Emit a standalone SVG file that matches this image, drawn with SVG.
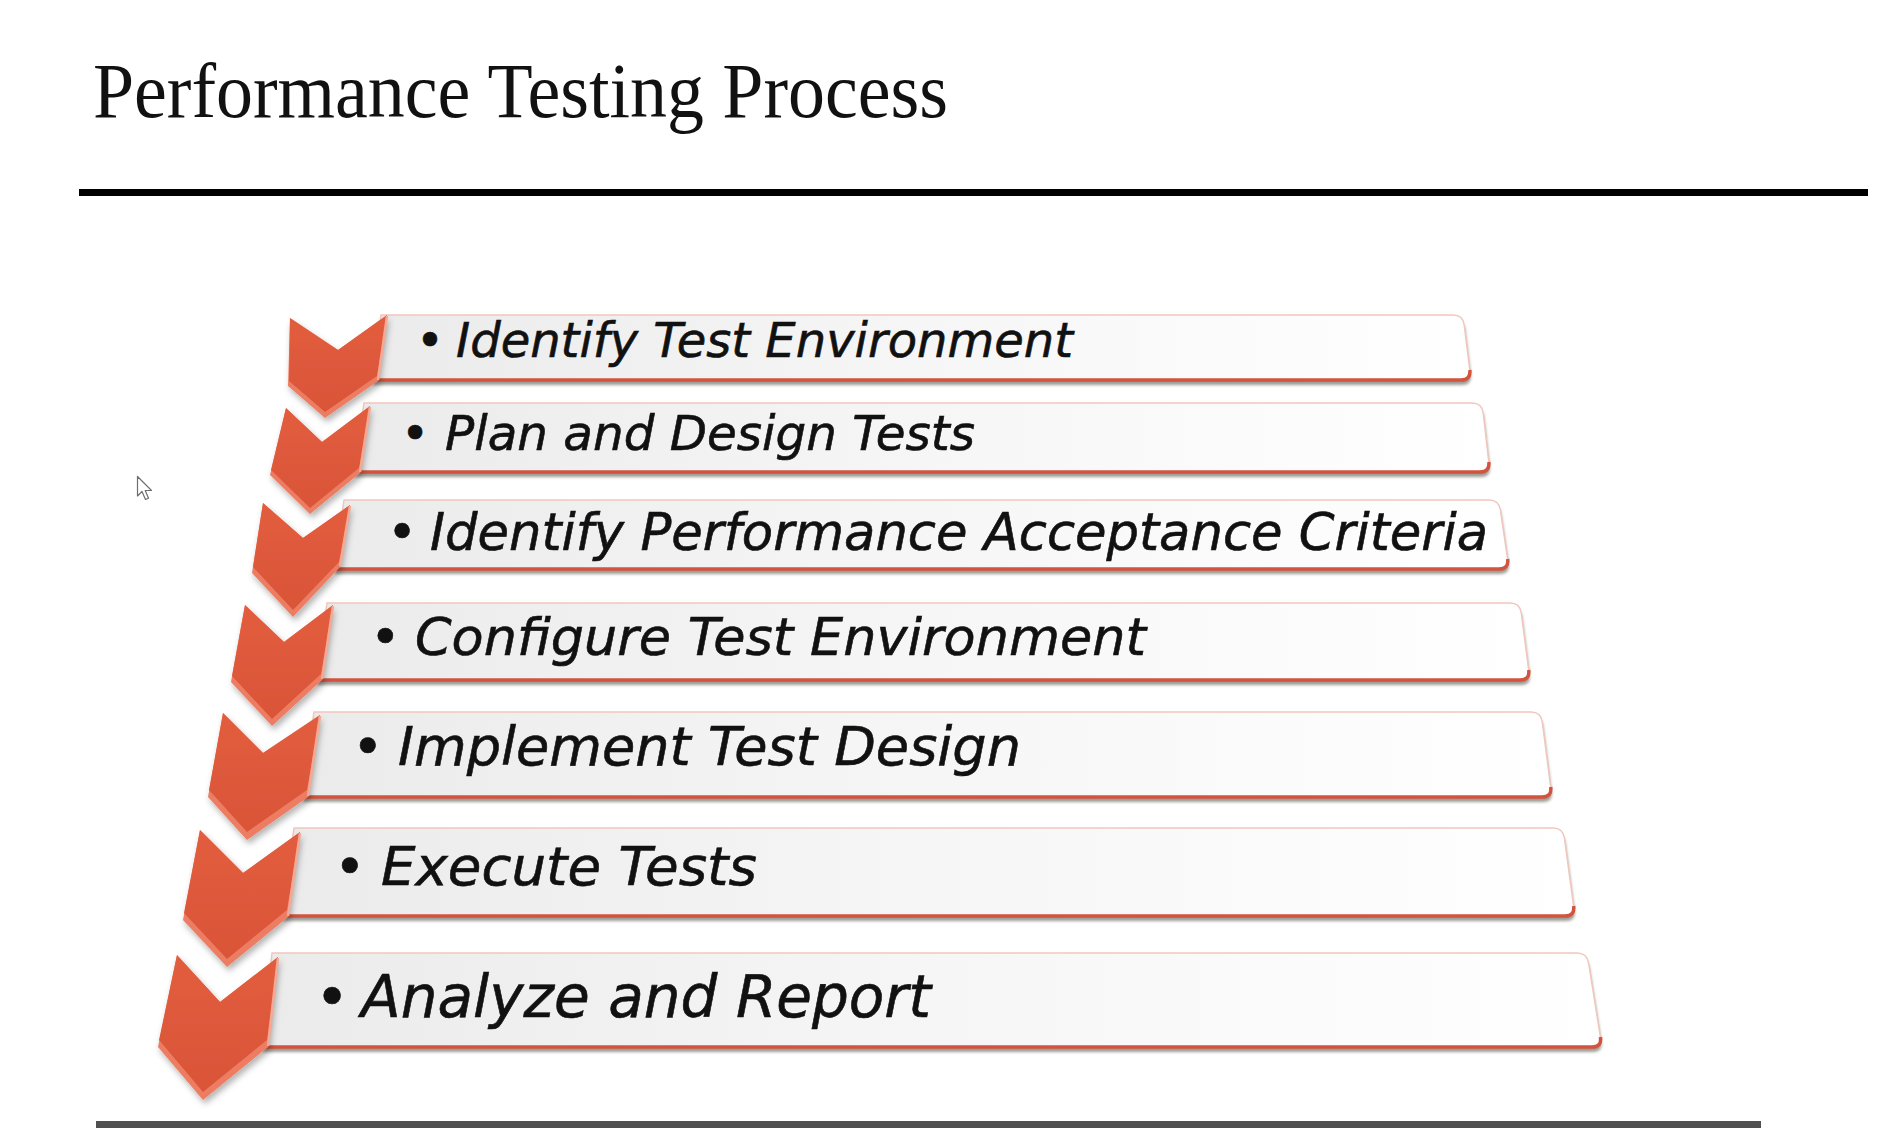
<svg xmlns="http://www.w3.org/2000/svg" width="1898" height="1128" viewBox="0 0 1898 1128">
<defs>
<linearGradient id="barGrad" x1="0" y1="0" x2="1" y2="0">
<stop offset="0" stop-color="#EBEBEB"/>
<stop offset="0.5" stop-color="#F6F6F6"/>
<stop offset="1" stop-color="#FFFFFF"/>
</linearGradient>
<linearGradient id="chevGrad" x1="0" y1="0" x2="0" y2="1">
<stop offset="0" stop-color="#E25D3F"/>
<stop offset="1" stop-color="#DA5538"/>
</linearGradient>
<filter id="blur" x="-5%" y="-30%" width="110%" height="160%">
<feGaussianBlur stdDeviation="1.8"/>
</filter>
<filter id="chevShadow" x="-30%" y="-30%" width="160%" height="160%">
<feDropShadow dx="2" dy="4" stdDeviation="3" flood-color="#000" flood-opacity="0.3"/>
</filter>
<style>
.shadow{fill:#9C9C96;filter:url(#blur);}
.bar{fill:url(#barGrad);stroke:#F1C6BD;stroke-width:1.5;}
.redline{fill:none;stroke:#D2533E;stroke-width:3.5;}
.bevel{fill:#EC7D62;}
.chev{fill:url(#chevGrad);}
.chevedge{fill:none;stroke:#F5A994;stroke-width:2.5;}
.txt{font-family:"DejaVu Sans","Verdana",sans-serif;font-style:italic;fill:#111111;stroke:#111111;stroke-width:0.6;}
.bul{font-style:normal;}
.title{font-family:"Liberation Serif","Times New Roman",serif;fill:#111111;}
</style>
</defs>
<rect width="1898" height="1128" fill="#FFFFFF"/>

<text class="title" x="93" y="117" font-size="78" textLength="855" lengthAdjust="spacingAndGlyphs">Performance Testing Process</text>
<rect x="79" y="189" width="1789" height="7" fill="#000000"/>

<g id="step1">
<path class="shadow" transform="translate(1,5)" d="M381,315 L1453,315 Q1463,315 1464.2,325 L1469.8,370 Q1471,380 1461,380 L372,380 Z"/>
<path class="bar" d="M381,315 L1453,315 Q1463,315 1464.2,325 L1469.8,370 Q1471,380 1461,380 L372,380 Z"/>
<path class="redline" d="M372,380 L1461,380 Q1471,380 1469.8,370"/>
<g filter="url(#chevShadow)">
<polygon class="bevel" points="290,318 338,350 387,315 378,381 325,418 288,386"/>
<polygon class="chev" points="290,318 338,350 387,315 377,376 325,412 289,381"/>
</g>
<line class="chevedge" x1="387" y1="316" x2="378" y2="380"/>
<text class="txt" y="357" font-size="47.5"><tspan class="bul" x="416">•</tspan><tspan x="456" textLength="617" lengthAdjust="spacingAndGlyphs">Identify Test Environment</tspan></text>
</g>

<g id="step2">
<path class="shadow" transform="translate(1,5)" d="M364,403 L1472,403 Q1482,403 1483.2,413 L1488.8,462 Q1490,472 1480,472 L354,472 Z"/>
<path class="bar" d="M364,403 L1472,403 Q1482,403 1483.2,413 L1488.8,462 Q1490,472 1480,472 L354,472 Z"/>
<path class="redline" d="M354,472 L1480,472 Q1490,472 1488.8,462"/>
<g filter="url(#chevShadow)">
<polygon class="bevel" points="286,408 322,442 370,406 360,473 310,514 270,475"/>
<polygon class="chev" points="286,408 322,442 370,406 359,468 310,508 271,470"/>
</g>
<line class="chevedge" x1="370" y1="407" x2="360" y2="472"/>
<text class="txt" y="450" font-size="47.8"><tspan class="bul" x="401">•</tspan><tspan x="445" textLength="530" lengthAdjust="spacingAndGlyphs">Plan and Design Tests</tspan></text>
</g>

<g id="step3">
<path class="shadow" transform="translate(1,5)" d="M344,500 L1489,500 Q1499,500 1500.4,510 L1507.6,559 Q1509,569 1499,569 L334,569 Z"/>
<path class="bar" d="M344,500 L1489,500 Q1499,500 1500.4,510 L1507.6,559 Q1509,569 1499,569 L334,569 Z"/>
<path class="redline" d="M334,569 L1499,569 Q1509,569 1507.6,559"/>
<g filter="url(#chevShadow)">
<polygon class="bevel" points="263,503 303,538 350,505 340,567 293,617 252,573"/>
<polygon class="chev" points="263,503 303,538 350,505 339,562 293,610 253,567"/>
</g>
<line class="chevedge" x1="350" y1="506" x2="340" y2="566"/>
<text class="txt" y="550" font-size="51.2"><tspan class="bul" x="387">•</tspan><tspan x="430" textLength="1058" lengthAdjust="spacingAndGlyphs">Identify Performance Acceptance Criteria</tspan></text>
</g>

<g id="step4">
<path class="shadow" transform="translate(1,5)" d="M327,603 L1510,603 Q1520,603 1521.3,613 L1528.7,670 Q1530,680 1520,680 L316,680 Z"/>
<path class="bar" d="M327,603 L1510,603 Q1520,603 1521.3,613 L1528.7,670 Q1530,680 1520,680 L316,680 Z"/>
<path class="redline" d="M316,680 L1520,680 Q1530,680 1528.7,670"/>
<g filter="url(#chevShadow)">
<polygon class="bevel" points="245,605 284,642 333,605 322,680 272,726 231,682"/>
<polygon class="chev" points="245,605 284,642 333,605 321,674 272,719 232,676"/>
</g>
<line class="chevedge" x1="333" y1="606" x2="322" y2="679"/>
<text class="txt" y="655" font-size="52"><tspan class="bul" x="370">•</tspan><tspan x="415" textLength="731" lengthAdjust="spacingAndGlyphs">Configure Test Environment</tspan></text>
</g>

<g id="step5">
<path class="shadow" transform="translate(1,5)" d="M314,712 L1531,712 Q1541,712 1542.3,722 L1550.7,787 Q1552,797 1542,797 L302,797 Z"/>
<path class="bar" d="M314,712 L1531,712 Q1541,712 1542.3,722 L1550.7,787 Q1552,797 1542,797 L302,797 Z"/>
<path class="redline" d="M302,797 L1542,797 Q1552,797 1550.7,787"/>
<g filter="url(#chevShadow)">
<polygon class="bevel" points="223,713 263,753 320,715 308,797 247,840 208,797"/>
<polygon class="chev" points="223,713 263,753 320,715 307,790 247,832 209,790"/>
</g>
<line class="chevedge" x1="320" y1="716" x2="308" y2="796"/>
<text class="txt" y="765" font-size="53.5"><tspan class="bul" x="352">•</tspan><tspan x="398" textLength="623" lengthAdjust="spacingAndGlyphs">Implement Test Design</tspan></text>
</g>

<g id="step6">
<path class="shadow" transform="translate(1,5)" d="M294,828 L1553,828 Q1563,828 1564.4,838 L1573.6,906 Q1575,916 1565,916 L282,916 Z"/>
<path class="bar" d="M294,828 L1553,828 Q1563,828 1564.4,838 L1573.6,906 Q1575,916 1565,916 L282,916 Z"/>
<path class="redline" d="M282,916 L1565,916 Q1575,916 1573.6,906"/>
<g filter="url(#chevShadow)">
<polygon class="bevel" points="200,830 243,873 300,832 288,917 227,967 183,920"/>
<polygon class="chev" points="200,830 243,873 300,832 287,910 227,959 184,913"/>
</g>
<line class="chevedge" x1="300" y1="833" x2="288" y2="916"/>
<text class="txt" y="885" font-size="53.7"><tspan class="bul" x="334">•</tspan><tspan x="381" textLength="376" lengthAdjust="spacingAndGlyphs">Execute Tests</tspan></text>
</g>

<g id="step7">
<path class="shadow" transform="translate(1,5)" d="M272,953 L1577,953 Q1587,953 1588.6,963 L1600.4,1037 Q1602,1047 1592,1047 L262,1047 Z"/>
<path class="bar" d="M272,953 L1577,953 Q1587,953 1588.6,963 L1600.4,1037 Q1602,1047 1592,1047 L262,1047 Z"/>
<path class="redline" d="M262,1047 L1592,1047 Q1602,1047 1600.4,1037"/>
<g filter="url(#chevShadow)">
<polygon class="bevel" points="177,955 220,1002 278,957 268,1047 203,1100 158,1047"/>
<polygon class="chev" points="177,955 220,1002 278,957 267,1040 203,1092 159,1040"/>
</g>
<line class="chevedge" x1="278" y1="958" x2="268" y2="1046"/>
<text class="txt" y="1017" font-size="58"><tspan class="bul" x="315">•</tspan><tspan x="361" textLength="570" lengthAdjust="spacingAndGlyphs">Analyze and Report</tspan></text>
</g>

<path id="cursor" d="M137.5,476.5 L137.5,496 L142,491.5 L145.5,499.5 L148.5,498.2 L145.2,490.5 L151.5,490.5 Z" fill="#FFFFFF" stroke="#6E6E6E" stroke-width="1.2" stroke-linejoin="round"/>

<rect x="96" y="1121" width="1665" height="7" fill="#505050"/>
</svg>
